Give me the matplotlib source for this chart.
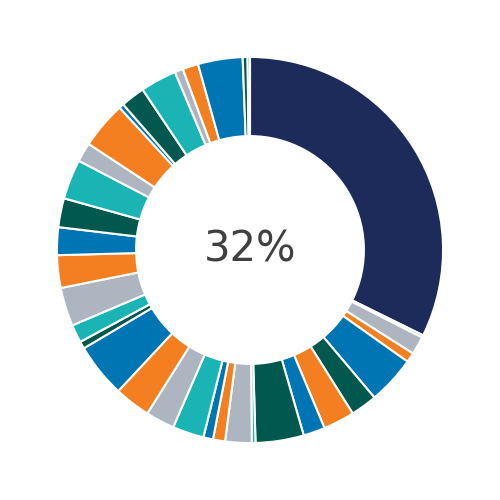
import matplotlib
matplotlib.use("Agg")
import matplotlib.pyplot as plt

navy, gray, orange, blue, dgreen, teal = "#1c2b5a", "#adb5c1", "#f47f20", "#0075b4", "#00584f", "#1bb4b4"

# segment shares, clockwise from 12 o'clock
values = [32.0,
          0.2, 1.5, 0.8, 4.0, 2.2, 2.6, 1.8, 4.0, 0.3,
          2.2, 1.0, 0.8, 2.6, 2.4, 3.0, 4.5, 0.6, 1.5, 3.2, 2.7,
          2.3, 2.4, 3.3, 1.6, 3.9, 0.4, 2.0, 3.0, 0.7, 1.3, 3.7, 0.4, 0.2]
colors = [navy,
          teal, gray, orange, blue, dgreen, orange, blue, dgreen, teal,
          gray, orange, blue, teal, gray, orange, blue, dgreen, teal, gray, orange,
          blue, dgreen, teal, gray, orange, blue, dgreen, teal, gray, orange, blue, dgreen, teal]
center_label = "32%"

fig, ax = plt.subplots(figsize=(5, 5), dpi=100)
fig.subplots_adjust(0, 0, 1, 1)
ax.pie(values, colors=colors, startangle=90, counterclock=False,
       wedgeprops=dict(width=0.41, edgecolor="white", linewidth=1.5))
ax.text(0, 0, center_label, ha="center", va="center", fontsize=30, color="#404040")
ax.set_xlim(-1.295, 1.295)
ax.set_ylim(-1.295, 1.295)
ax.set_aspect("equal")
ax.axis("off")
fig.savefig("out.png", dpi=100)
